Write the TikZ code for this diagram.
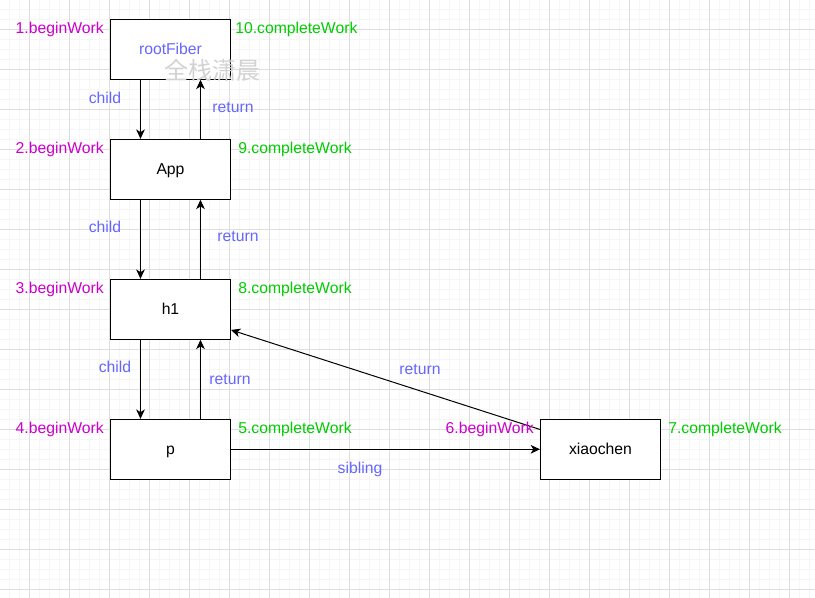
\documentclass[tikz,border=0pt]{standalone}
\usepackage{fontspec}
\setmainfont{Liberation Sans}
\newfontfamily\cjkfont{Noto Sans CJK SC}
\usepackage{xcolor}
\usetikzlibrary{arrows.meta}
\definecolor{beginclr}{HTML}{CC00CC}
\definecolor{completeclr}{HTML}{00CC00}
\definecolor{edgeclr}{HTML}{6666FF}
\definecolor{gridmajor}{HTML}{DEDEDE}
\definecolor{gridminor}{HTML}{F6F6F6}

\begin{document}
\begin{tikzpicture}[x=0.75pt,y=0.75pt,yscale=-1,
    fiber/.style={draw=black,line width=0.75pt,fill=white,minimum width=90pt,minimum height=45pt,inner sep=0pt,text height=8.3pt,text depth=0pt,font=\fontsize{11.8}{14}\selectfont},
    link/.style={line width=0.75pt,-{Stealth[length=7pt,width=6.5pt,inset=2pt]}},
    edgelbl/.style={anchor=base,inner sep=0pt,text=edgeclr,font=\fontsize{11.8}{14}\selectfont},
    beginlbl/.style={anchor=base east,inner sep=0pt,text=beginclr,font=\fontsize{11.8}{14}\selectfont},
    donelbl/.style={anchor=base west,inner sep=0pt,text=completeclr,font=\fontsize{11.8}{14}\selectfont}]
        \useasboundingbox (0,0) rectangle (815,598);
        \fill[white] (0,0) rectangle (815,598);
        
        %Grid
        \foreach \g in {9.3,19.3,...,815} \draw[gridminor,line width=0.75pt] (\g,0) -- (\g,598);
        \foreach \g in {9.3,19.3,...,598} \draw[gridminor,line width=0.75pt] (0,\g) -- (815,\g);
        \foreach \g in {29.3,69.3,...,815} \draw[gridmajor,line width=0.75pt] (\g,0) -- (\g,598);
        \foreach \g in {29.3,69.3,...,598} \draw[gridmajor,line width=0.75pt] (0,\g) -- (815,\g);
        
        %Shape: Rectangle
        \node[fiber,text=edgeclr] (rootFiber) at (170.5,49.3) {rootFiber};
        \node[fiber] (App) at (170.5,169.3) {App};
        \node[fiber] (h1) at (170.5,309.3) {h1};
        \node[fiber] (p) at (170.5,449.3) {p};
        \node[fiber] (xiaochen) at (600.5,449.3) {xiaochen};
        
        %Straight Lines
        \draw[link] ([xshift=-22.5pt]rootFiber.south) -- ([xshift=-22.5pt]App.north);
        \draw[link] ([xshift=22.5pt]App.north) -- ([xshift=22.5pt]rootFiber.south);
        \draw[link] ([xshift=-22.5pt]App.south) -- ([xshift=-22.5pt]h1.north);
        \draw[link] ([xshift=22.5pt]h1.north) -- ([xshift=22.5pt]App.south);
        \draw[link] ([xshift=-22.5pt]h1.south) -- ([xshift=-22.5pt]p.north);
        \draw[link] ([xshift=22.5pt]p.north) -- ([xshift=22.5pt]h1.south);
        \draw[link] (p.east) -- (xiaochen.west);
        \draw[link] ([yshift=8pt]xiaochen.north west) -- ([yshift=15.5pt]h1.east);
        
        % Text Node
        \node[edgelbl] (child1) at (105,104) {child};
        \node[edgelbl] (return1) at (233,112.7) {return};
        \node[edgelbl] (child2) at (105,233) {child};
        \node[edgelbl] (return2) at (238,241.7) {return};
        \node[edgelbl] (child3) at (115,373) {child};
        \node[edgelbl] (return3) at (230,385) {return};
        \node[edgelbl] (return4) at (420,375) {return};
        \node[edgelbl] (sibling) at (360,473.5) {sibling};
        
        % Text Node
        \node[beginlbl] (begin1) at (104,34) {1.beginWork};
        \node[beginlbl] (begin2) at (104,154) {2.beginWork};
        \node[beginlbl] (begin3) at (104,294) {3.beginWork};
        \node[beginlbl] (begin4) at (104,434) {4.beginWork};
        \node[beginlbl] (begin6) at (534,434) {6.beginWork};
        
        % Text Node
        \node[donelbl] (done10) at (235,34) {10.completeWork};
        \node[donelbl] (done9) at (238,154) {9.completeWork};
        \node[donelbl] (done8) at (238,294) {8.completeWork};
        \node[donelbl] (done5) at (238,434) {5.completeWork};
        \node[donelbl] (done7) at (668,434) {7.completeWork};
        
        % Watermark
        \node[text=gray!35,font=\cjkfont\fontsize{18}{20}\selectfont] (mark) at (212,70) {全栈潇晨};
        
\end{tikzpicture}
\end{document}
